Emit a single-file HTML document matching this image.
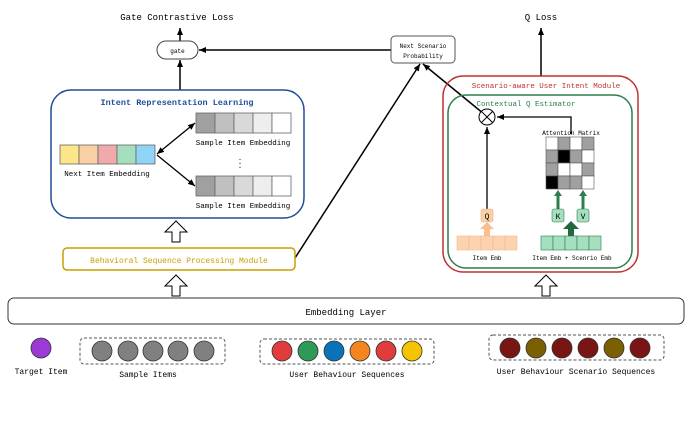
<!DOCTYPE html>
<html><head><meta charset="utf-8"><style>
body{margin:0;background:#fff}
svg text{font-family:"Liberation Mono",monospace}
</style></head><body>
<svg width="693" height="442" viewBox="0 0 693 442" xmlns="http://www.w3.org/2000/svg">
<defs>
<marker id="a" markerWidth="8" markerHeight="8" refX="7" refY="4" orient="auto" markerUnits="userSpaceOnUse"><path d="M0,1 L7,4 L0,7z" fill="#000"/></marker>
<marker id="as" markerWidth="8" markerHeight="8" refX="1" refY="4" orient="auto" markerUnits="userSpaceOnUse"><path d="M8,1 L1,4 L8,7z" fill="#000"/></marker>
</defs>
<g font-size="9" fill="#000">
<text x="177" y="20" text-anchor="middle">Gate Contrastive Loss</text>
<text x="541" y="20" text-anchor="middle">Q Loss</text>
</g>
<g stroke="#000" stroke-width="1.5" fill="none">
<line x1="180" y1="41" x2="180" y2="28" marker-end="url(#a)"/>
<line x1="180" y1="90" x2="180" y2="60" marker-end="url(#a)"/>
<line x1="541" y1="76" x2="541" y2="28" marker-end="url(#a)"/>
<line x1="391" y1="50" x2="199" y2="50" marker-end="url(#a)"/>
<line x1="295" y1="258" x2="420" y2="64" marker-end="url(#a)"/>
<line x1="484" y1="114" x2="423" y2="64" marker-end="url(#a)"/>
</g>
<rect x="157" y="41" width="41" height="18" rx="9" fill="#fff" stroke="#444"/>
<text x="177.5" y="53" font-size="6" text-anchor="middle">gate</text>
<rect x="391" y="36" width="64" height="27" rx="4" fill="#fff" stroke="#555"/>
<text x="423" y="48" font-size="6" text-anchor="middle">Next Scenario</text>
<text x="423" y="58" font-size="6" text-anchor="middle">Probability</text>

<!-- Intent box -->
<rect x="51" y="90" width="253" height="128" rx="20" fill="none" stroke="#1f4e9a" stroke-width="1.5"/>
<text x="177" y="105" font-size="8.5" fill="#1f4e9a" text-anchor="middle" font-weight="bold">Intent Representation Learning</text>
<g stroke="#666" stroke-width="0.8">
<rect x="60" y="145" width="19" height="19" fill="#fde68a"/>
<rect x="79" y="145" width="19" height="19" fill="#f9cfa6"/>
<rect x="98" y="145" width="19" height="19" fill="#f0aaaa"/>
<rect x="117" y="145" width="19" height="19" fill="#a5dfc0"/>
<rect x="136" y="145" width="19" height="19" fill="#8fd3f6"/>
<rect x="196" y="113" width="19" height="20" fill="#a0a0a0"/>
<rect x="215" y="113" width="19" height="20" fill="#c0c0c0"/>
<rect x="234" y="113" width="19" height="20" fill="#d9d9d9"/>
<rect x="253" y="113" width="19" height="20" fill="#eeeeee"/>
<rect x="272" y="113" width="19" height="20" fill="#fff"/>
<rect x="196" y="176" width="19" height="20" fill="#a0a0a0"/>
<rect x="215" y="176" width="19" height="20" fill="#c0c0c0"/>
<rect x="234" y="176" width="19" height="20" fill="#d9d9d9"/>
<rect x="253" y="176" width="19" height="20" fill="#eeeeee"/>
<rect x="272" y="176" width="19" height="20" fill="#fff"/>
</g>
<g font-size="7.5" text-anchor="middle">
<text x="107" y="176">Next Item Embedding</text>
<text x="243" y="145">Sample Item Embedding</text>
<text x="243" y="208">Sample Item Embedding</text>
<text x="240" y="160">.</text><text x="240" y="164">.</text><text x="240" y="168">.</text>
</g>
<g stroke="#000" stroke-width="1.3">
<line x1="157" y1="154" x2="195" y2="123" marker-end="url(#a)" marker-start="url(#as)"/>
<line x1="157" y1="155" x2="195" y2="186" marker-end="url(#a)"/>
</g>
<!-- hollow arrows -->
<g fill="#fff" stroke="#000" stroke-width="1">
<path d="M172,242 L172,232 L165,232 L176,221 L187,232 L180,232 L180,242z"/>
<path d="M172,296 L172,286 L165,286 L176,275 L187,286 L180,286 L180,296z"/>
<path d="M542,296 L542,286 L535,286 L546,275 L557,286 L550,286 L550,296z"/>
</g>
<rect x="63" y="248" width="232" height="22" rx="4" fill="none" stroke="#c8a000" stroke-width="1.5"/>
<text x="179" y="263" font-size="8" fill="#c8a000" text-anchor="middle">Behavioral Sequence Processing Module</text>

<!-- Red/green boxes -->
<rect x="443" y="76" width="195" height="196" rx="20" fill="none" stroke="#c03030" stroke-width="1.5"/>
<text x="546" y="88" font-size="7.5" fill="#c03030" text-anchor="middle">Scenario-aware User Intent Module</text>
<rect x="448" y="95" width="184" height="173" rx="18" fill="none" stroke="#2e7d4f" stroke-width="1.5"/>
<text x="526" y="106" font-size="7.5" fill="#2e7d4f" text-anchor="middle">Contextual Q Estimator</text>
<g stroke="#000" stroke-width="1.3" fill="none">
<line x1="487" y1="209" x2="487" y2="127" marker-end="url(#a)"/>
<polyline points="571,134 571,117 497,117" marker-end="url(#a)"/>
</g>
<circle cx="487" cy="117" r="8" fill="#fff" stroke="#000"/>
<line x1="481.5" y1="111.5" x2="492.5" y2="122.5" stroke="#000"/>
<line x1="492.5" y1="111.5" x2="481.5" y2="122.5" stroke="#000"/>
<text x="571" y="135" font-size="6" text-anchor="middle">Attention Matrix</text>
<g stroke="#555" stroke-width="0.6">
<rect x="546" y="137" width="12" height="13" fill="#fff"/><rect x="558" y="137" width="12" height="13" fill="#a0a0a0"/><rect x="570" y="137" width="12" height="13" fill="#fff"/><rect x="582" y="137" width="12" height="13" fill="#a0a0a0"/>
<rect x="546" y="150" width="12" height="13" fill="#a0a0a0"/><rect x="558" y="150" width="12" height="13" fill="#000"/><rect x="570" y="150" width="12" height="13" fill="#a0a0a0"/><rect x="582" y="150" width="12" height="13" fill="#fff"/>
<rect x="546" y="163" width="12" height="13" fill="#a0a0a0"/><rect x="558" y="163" width="12" height="13" fill="#fff"/><rect x="570" y="163" width="12" height="13" fill="#fff"/><rect x="582" y="163" width="12" height="13" fill="#a0a0a0"/>
<rect x="546" y="176" width="12" height="13" fill="#000"/><rect x="558" y="176" width="12" height="13" fill="#a0a0a0"/><rect x="570" y="176" width="12" height="13" fill="#a0a0a0"/><rect x="582" y="176" width="12" height="13" fill="#fff"/>
</g>
<!-- Q K V -->
<path d="M484,236 L484,229 L480,229 L487,222 L494,229 L490,229 L490,236z" fill="#f9bf8f"/>
<path d="M568,236 L568,229 L563,229 L571,221 L579,229 L574,229 L574,236z" fill="#1f6b3f"/>
<path d="M556.5,209 L556.5,196 L554,196 L558,190 L562,196 L559.5,196 L559.5,209z" fill="#2e7d4f"/>
<path d="M581.5,209 L581.5,196 L579,196 L583,190 L587,196 L584.5,196 L584.5,209z" fill="#2e7d4f"/>
<rect x="481" y="209" width="12" height="13" rx="2" fill="#f9cfa6" stroke="#f0b080" stroke-width="0.6"/>
<rect x="552" y="209" width="12" height="13" rx="2" fill="#a5dfc0" stroke="#2e7d4f" stroke-width="0.6"/>
<rect x="577" y="209" width="12" height="13" rx="2" fill="#a5dfc0" stroke="#2e7d4f" stroke-width="0.6"/>
<g font-size="8" text-anchor="middle"><text x="487" y="219">Q</text><text x="558" y="219">K</text><text x="583" y="219">V</text></g>
<g fill="#fcd3b0" stroke="#f5b888" stroke-width="0.6">
<rect x="457" y="236" width="12" height="14"/><rect x="469" y="236" width="12" height="14"/><rect x="481" y="236" width="12" height="14"/><rect x="493" y="236" width="12" height="14"/><rect x="505" y="236" width="12" height="14"/>
</g>
<g fill="#a5dfc0" stroke="#2e7d4f" stroke-width="0.6">
<rect x="541" y="236" width="12" height="14"/><rect x="553" y="236" width="12" height="14"/><rect x="565" y="236" width="12" height="14"/><rect x="577" y="236" width="12" height="14"/><rect x="589" y="236" width="12" height="14"/>
</g>
<g font-size="6" text-anchor="middle"><text x="487" y="260">Item Emb</text><text x="572" y="260">Item Emb + Scenrio Emb</text></g>

<!-- Embedding layer -->
<rect x="8" y="298" width="676" height="26" rx="6" fill="#fff" stroke="#333"/>
<text x="346" y="315" font-size="9" text-anchor="middle">Embedding Layer</text>

<!-- bottom -->
<g fill="none" stroke="#555" stroke-dasharray="3,2">
<rect x="80" y="338" width="145" height="26" rx="4"/>
<rect x="260" y="339" width="174" height="25" rx="4"/>
<rect x="489" y="335" width="175" height="25" rx="4"/>
</g>
<g stroke="#333" stroke-width="0.8">
<ellipse cx="41" cy="348" rx="10" ry="10" fill="#9b3ad6"/>
<g fill="#808080"><ellipse cx="102" cy="351" rx="10" ry="10"/><ellipse cx="128" cy="351" rx="10" ry="10"/><ellipse cx="153" cy="351" rx="10" ry="10"/><ellipse cx="178" cy="351" rx="10" ry="10"/><ellipse cx="204" cy="351" rx="10" ry="10"/></g>
<ellipse cx="282" cy="351" rx="10" ry="10" fill="#e03c3c"/>
<ellipse cx="308" cy="351" rx="10" ry="10" fill="#2e9a5a"/>
<ellipse cx="334" cy="351" rx="10" ry="10" fill="#0a72b8"/>
<ellipse cx="360" cy="351" rx="10" ry="10" fill="#f5861f"/>
<ellipse cx="386" cy="351" rx="10" ry="10" fill="#e03c3c"/>
<ellipse cx="412" cy="351" rx="10" ry="10" fill="#f5c400"/>
<ellipse cx="510" cy="348" rx="10" ry="10" fill="#7a1515"/>
<ellipse cx="536" cy="348" rx="10" ry="10" fill="#7a6000"/>
<ellipse cx="562" cy="348" rx="10" ry="10" fill="#7a1515"/>
<ellipse cx="588" cy="348" rx="10" ry="10" fill="#7a1515"/>
<ellipse cx="614" cy="348" rx="10" ry="10" fill="#7a6000"/>
<ellipse cx="640" cy="348" rx="10" ry="10" fill="#7a1515"/>
</g>
<g font-size="8" text-anchor="middle">
<text x="41" y="374">Target Item</text>
<text x="148" y="377">Sample Items</text>
<text x="347" y="377">User Behaviour Sequences</text>
<text x="576" y="374">User Behaviour Scenario Sequences</text>
</g>
</svg>
</body></html>
